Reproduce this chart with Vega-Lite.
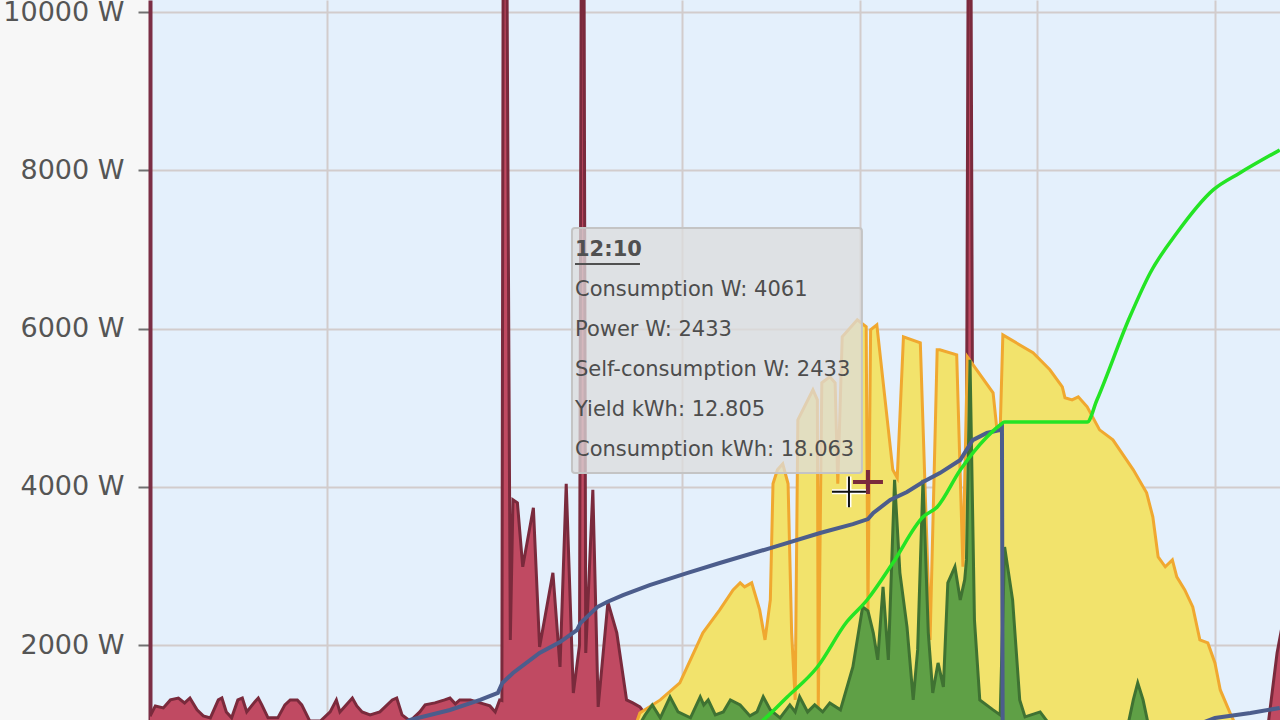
{
  "$schema": "https://vega.github.io/schema/vega-lite/v6.json",
  "width": 1130,
  "height": 720,
  "autosize": {"type": "none"},
  "padding": {"left": 150, "top": 0, "right": 0, "bottom": 0},
  "background": "#f7f7f7",
  "config": {
    "view": {"fill": "#e4f0fc", "stroke": null},
    "axisX": {"labels": false, "ticks": false, "domain": false, "title": null, "grid": true, "gridColor": "#d2cccc", "gridWidth": 2},
    "axisY": {"title": null, "grid": true, "gridColor": "#d2cccc", "gridWidth": 2, "tickSize": 12, "tickWidth": 2, "tickColor": "#707070", "labelPadding": 14, "labelFont": "DejaVu Sans", "labelFontSize": 27, "labelColor": "#555555", "domainColor": "#7b2e45", "domainWidth": 4}
  },
  "datasets": {
    "consumption": [
      {"t":4.00,"v":1100},{"t":4.06,"v":1231},{"t":4.15,"v":1206},{"t":4.23,"v":1307},{"t":4.32,"v":1331},{"t":4.39,"v":1269},{"t":4.45,"v":1331},{"t":4.53,"v":1181},{"t":4.60,"v":1105},{"t":4.68,"v":1080},{"t":4.77,"v":1307},{"t":4.81,"v":1331},{"t":4.86,"v":1155},{"t":4.92,"v":1080},{"t":4.99,"v":1307},{"t":5.04,"v":1331},{"t":5.09,"v":1155},{"t":5.18,"v":1282},{"t":5.22,"v":1331},{"t":5.26,"v":1244},{"t":5.33,"v":1080},{"t":5.44,"v":1080},{"t":5.52,"v":1244},{"t":5.58,"v":1307},{"t":5.66,"v":1307},{"t":5.71,"v":1244},{"t":5.80,"v":1040},{"t":5.92,"v":1040},{"t":6.03,"v":1155},{"t":6.10,"v":1307},{"t":6.14,"v":1155},{"t":6.28,"v":1331},{"t":6.33,"v":1231},{"t":6.39,"v":1155},{"t":6.48,"v":1117},{"t":6.59,"v":1155},{"t":6.73,"v":1307},{"t":6.78,"v":1331},{"t":6.84,"v":1117},{"t":6.93,"v":1040},{"t":7.04,"v":1155},{"t":7.10,"v":1244},{"t":7.21,"v":1269},{"t":7.32,"v":1307},{"t":7.38,"v":1331},{"t":7.44,"v":1257},{"t":7.49,"v":1307},{"t":7.61,"v":1307},{"t":7.72,"v":1269},{"t":7.83,"v":1231},{"t":7.89,"v":1155},{"t":7.94,"v":1307},{"t":7.965,"v":1300},{"t":7.98,"v":11000},{"t":8.02,"v":11000},{"t":8.06,"v":2066},{"t":8.09,"v":3836},{"t":8.14,"v":3798},{"t":8.20,"v":2990},{"t":8.32,"v":3735},{"t":8.39,"v":1976},{"t":8.54,"v":2913},{"t":8.62,"v":1724},{"t":8.69,"v":4039},{"t":8.77,"v":1395},{"t":8.84,"v":2000},{"t":8.86,"v":11000},{"t":8.89,"v":11000},{"t":8.91,"v":1900},{"t":8.99,"v":3963},{"t":9.05,"v":1219},{"t":9.16,"v":2544},{"t":9.26,"v":2155},{"t":9.37,"v":1307},{"t":9.44,"v":1269},{"t":9.52,"v":1219},{"t":9.60,"v":1100},{"t":10.0,"v":1050},{"t":11.0,"v":1050},{"t":12.0,"v":1050},{"t":13.19,"v":1050},{"t":13.22,"v":11000},{"t":13.25,"v":11000},{"t":13.28,"v":1050},{"t":14.0,"v":1000},{"t":15.0,"v":1000},{"t":16.0,"v":1000},{"t":16.60,"v":1000},{"t":16.70,"v":1900},{"t":16.75,"v":2200}
    ],
    "power": [
      {"t":9.46,"v":950},{"t":9.52,"v":1142},{"t":9.75,"v":1307},{"t":9.97,"v":1522},{"t":10.23,"v":2155},{"t":10.42,"v":2445},{"t":10.57,"v":2698},{"t":10.65,"v":2787},{"t":10.70,"v":2736},{"t":10.78,"v":2787},{"t":10.87,"v":2445},{"t":10.93,"v":2066},{"t":10.99,"v":2571},{"t":11.02,"v":4039},{"t":11.07,"v":4216},{"t":11.13,"v":4292},{"t":11.19,"v":4039},{"t":11.23,"v":2155},{"t":11.27,"v":1307},{"t":11.30,"v":4847},{"t":11.47,"v":5227},{"t":11.52,"v":5100},{"t":11.53,"v":1181},{"t":11.57,"v":5316},{"t":11.66,"v":5392},{"t":11.72,"v":5316},{"t":11.75,"v":4039},{"t":11.80,"v":5897},{"t":11.97,"v":6112},{"t":12.07,"v":6024},{"t":12.09,"v":2433},{"t":12.12,"v":5986},{"t":12.19,"v":6049},{"t":12.37,"v":4216},{"t":12.42,"v":4115},{"t":12.49,"v":5897},{"t":12.68,"v":5821},{"t":12.79,"v":2066},{"t":12.87,"v":5733},{"t":12.90,"v":5733},{"t":13.09,"v":5669},{"t":13.16,"v":2990},{"t":13.21,"v":5644},{"t":13.50,"v":5189},{"t":13.54,"v":4760},{"t":13.58,"v":4721},{"t":13.61,"v":5922},{"t":13.95,"v":5695},{"t":14.14,"v":5480},{"t":14.28,"v":5265},{"t":14.31,"v":5126},{"t":14.39,"v":5100},{"t":14.46,"v":5139},{"t":14.56,"v":5012},{"t":14.70,"v":4721},{"t":14.85,"v":4595},{"t":15.08,"v":4216},{"t":15.23,"v":3925},{"t":15.30,"v":3621},{"t":15.36,"v":3115},{"t":15.44,"v":2990},{"t":15.52,"v":3077},{"t":15.57,"v":2862},{"t":15.66,"v":2698},{"t":15.75,"v":2482},{"t":15.83,"v":2066},{"t":15.92,"v":2028},{"t":16.00,"v":1775},{"t":16.06,"v":1433},{"t":16.17,"v":1142},{"t":16.26,"v":927}
    ],
    "self": [
      {"t":9.48,"v":927},{"t":9.58,"v":1117},{"t":9.66,"v":1244},{"t":9.75,"v":1080},{"t":9.86,"v":1346},{"t":9.95,"v":1155},{"t":10.09,"v":1080},{"t":10.20,"v":1346},{"t":10.24,"v":1244},{"t":10.29,"v":1307},{"t":10.37,"v":1117},{"t":10.46,"v":1155},{"t":10.54,"v":1307},{"t":10.65,"v":1244},{"t":10.76,"v":1105},{"t":10.84,"v":1155},{"t":10.91,"v":1346},{"t":10.99,"v":1181},{"t":11.10,"v":1080},{"t":11.21,"v":1244},{"t":11.27,"v":1155},{"t":11.32,"v":1346},{"t":11.41,"v":1155},{"t":11.49,"v":1244},{"t":11.58,"v":1155},{"t":11.66,"v":1269},{"t":11.78,"v":1181},{"t":11.92,"v":1724},{"t":12.03,"v":2482},{"t":12.09,"v":2433},{"t":12.15,"v":2155},{"t":12.20,"v":1813},{"t":12.26,"v":2736},{"t":12.32,"v":1813},{"t":12.39,"v":4089},{"t":12.45,"v":2913},{"t":12.53,"v":2230},{"t":12.60,"v":1307},{"t":12.65,"v":1939},{"t":12.71,"v":4089},{"t":12.77,"v":2155},{"t":12.82,"v":1395},{"t":12.88,"v":1775},{"t":12.94,"v":1471},{"t":12.99,"v":2787},{"t":13.07,"v":2990},{"t":13.13,"v":2571},{"t":13.18,"v":2824},{"t":13.20,"v":3077},{"t":13.24,"v":5606},{"t":13.29,"v":2319},{"t":13.35,"v":1307},{"t":13.50,"v":1181},{"t":13.58,"v":1117},{"t":13.63,"v":3241},{"t":13.72,"v":2571},{"t":13.80,"v":1307},{"t":13.86,"v":1093},{"t":14.03,"v":1155},{"t":14.14,"v":990},{"t":15.02,"v":990},{"t":15.08,"v":1307},{"t":15.13,"v":1522},{"t":15.19,"v":1307},{"t":15.25,"v":990},{"t":16.28,"v":927}
    ],
    "yield": [
      {"t":10.84,"v":4.70},{"t":10.91,"v":5.02},{"t":11.18,"v":6.51},{"t":11.52,"v":8.46},{"t":11.85,"v":11.38},{"t":12.08,"v":12.81},{"t":12.37,"v":15.21},{"t":12.71,"v":18.20},{"t":12.87,"v":18.85},{"t":13.13,"v":21.25},{"t":13.43,"v":23.39},{"t":13.58,"v":24.17},{"t":13.63,"v":24.36},{"t":14.56,"v":24.36},{"t":14.67,"v":25.79},{"t":15.04,"v":31.18},{"t":15.27,"v":34.04},{"t":15.57,"v":36.63},{"t":15.98,"v":39.43},{"t":16.28,"v":40.53},{"t":16.73,"v":42.02}
    ],
    "ckwh": [
      {"t":6.59,"v":4.04},{"t":6.93,"v":5.02},{"t":7.38,"v":5.67},{"t":7.72,"v":6.32},{"t":7.92,"v":6.78},{"t":7.97,"v":7.42},{"t":8.09,"v":8.07},{"t":8.39,"v":9.37},{"t":8.62,"v":10.08},{"t":8.81,"v":10.86},{"t":8.85,"v":11.31},{"t":9.04,"v":12.35},{"t":9.15,"v":12.68},{"t":9.33,"v":13.13},{"t":9.63,"v":13.78},{"t":10.05,"v":14.56},{"t":10.42,"v":15.21},{"t":10.99,"v":16.18},{"t":11.55,"v":17.16},{"t":11.92,"v":17.74},{"t":12.09,"v":18.06},{"t":12.15,"v":18.46},{"t":12.34,"v":19.30},{"t":12.53,"v":19.82},{"t":12.71,"v":20.47},{"t":12.90,"v":21.05},{"t":13.13,"v":21.90},{"t":13.27,"v":23.19},{"t":13.43,"v":23.65},{"t":13.58,"v":23.85},{"t":13.60,"v":23.97},{"t":13.61,"v":0.0},{"t":14.70,"v":2.3},{"t":16.00,"v":5.15},{"t":16.40,"v":5.48},{"t":16.73,"v":5.80}
    ],
    "tipbox": [{"t1":8.755,"t2":12.022,"v1":7273,"v2":4176}],
    "tiptitle": [{"t":8.789,"v":6995,"label":"12:10","t2":9.521,"u":6818}],
    "tiplines": [
      {"t":8.789,"v":6491,"label":"Consumption W: 4061"},
      {"t":8.789,"v":5985,"label":"Power W: 2433"},
      {"t":8.789,"v":5479,"label":"Self-consumption W: 2433"},
      {"t":8.789,"v":4974,"label":"Yield kWh: 12.805"},
      {"t":8.789,"v":4468,"label":"Consumption kWh: 18.063"}
    ],
    "hover": [{"t":12.09,"v":4061}],
    "cursor": [{"t":11.876,"v":3937}]
  },
  "resolve": {"scale": {"y": "independent"}},
  "layer": [
    {
      "layer": [
        {
          "data": {"name": "consumption"},
          "mark": {"type": "area", "color": "#c04a62", "opacity": 1, "clip": true, "line": {"color": "#7a2a3c", "strokeWidth": 3}},
          "encoding": {
            "x": {"field": "t", "type": "quantitative", "scale": {"domain": [4, 16.733], "nice": false, "zero": false}, "axis": {"values": [6, 8, 10, 12, 14, 16]}},
            "y": {"field": "v", "type": "quantitative", "scale": {"domain": [1053, 10155], "nice": false, "zero": false}, "axis": {"values": [2000, 4000, 6000, 8000, 10000], "labelExpr": "datum.value + ' W'"}}
          }
        },
        {
          "data": {"name": "power"},
          "mark": {"type": "area", "color": "#f2e36c", "opacity": 1, "clip": true, "line": {"color": "#f0a830", "strokeWidth": 3}},
          "encoding": {
            "x": {"field": "t", "type": "quantitative"},
            "y": {"field": "v", "type": "quantitative"}
          }
        },
        {
          "data": {"name": "self"},
          "mark": {"type": "area", "color": "#5fa046", "opacity": 1, "clip": true, "line": {"color": "#3f7232", "strokeWidth": 3}},
          "encoding": {
            "x": {"field": "t", "type": "quantitative"},
            "y": {"field": "v", "type": "quantitative"}
          }
        }
      ]
    },
    {
      "layer": [
        {
          "data": {"name": "ckwh"},
          "mark": {"type": "line", "color": "#4c5d8c", "strokeWidth": 4, "clip": true},
          "encoding": {
            "x": {"field": "t", "type": "quantitative"},
            "y": {"field": "v", "type": "quantitative", "scale": {"domain": [5.02, 51.76], "nice": false, "zero": false}, "axis": null}
          }
        },
        {
          "data": {"name": "yield"},
          "mark": {"type": "line", "color": "#24e424", "strokeWidth": 3.5, "interpolate": "monotone", "clip": true},
          "encoding": {
            "x": {"field": "t", "type": "quantitative"},
            "y": {"field": "v", "type": "quantitative"}
          }
        }
      ]
    },
    {
      "layer": [
        {
          "data": {"name": "hover"},
          "mark": {"type": "point", "shape": "M-1,0L1,0M0,-0.8L0,0.8", "size": 900, "filled": false, "stroke": "#7a2a3c", "strokeWidth": 4, "opacity": 1},
          "encoding": {
            "x": {"field": "t", "type": "quantitative"},
            "y": {"field": "v", "type": "quantitative", "scale": {"domain": [1053, 10155], "nice": false, "zero": false}, "axis": null}
          }
        },
        {
          "data": {"name": "tipbox"},
          "mark": {"type": "rect", "fill": "#dcdcdc", "fillOpacity": 0.75, "stroke": "#c4c4c4", "strokeWidth": 2, "cornerRadius": 3},
          "encoding": {
            "x": {"field": "t1", "type": "quantitative"},
            "x2": {"field": "t2"},
            "y": {"field": "v1", "type": "quantitative"},
            "y2": {"field": "v2"}
          }
        },
        {
          "data": {"name": "tiptitle"},
          "mark": {"type": "text", "align": "left", "baseline": "middle", "font": "DejaVu Sans", "fontSize": 21, "fontWeight": "bold", "color": "#505050"},
          "encoding": {
            "x": {"field": "t", "type": "quantitative"},
            "y": {"field": "v", "type": "quantitative"},
            "text": {"field": "label"}
          }
        },
        {
          "data": {"name": "tiptitle"},
          "mark": {"type": "rule", "color": "#505050", "strokeWidth": 2},
          "encoding": {
            "x": {"field": "t", "type": "quantitative"},
            "x2": {"field": "t2"},
            "y": {"field": "u", "type": "quantitative"}
          }
        },
        {
          "data": {"name": "tiplines"},
          "mark": {"type": "text", "align": "left", "baseline": "middle", "font": "DejaVu Sans", "fontSize": 21, "color": "#4d4d4d"},
          "encoding": {
            "x": {"field": "t", "type": "quantitative"},
            "y": {"field": "v", "type": "quantitative"},
            "text": {"field": "label"}
          }
        },
        {
          "data": {"name": "cursor"},
          "mark": {"type": "point", "shape": "M-1,0L1,0M0,-0.9L0,0.9", "size": 1156, "filled": false, "stroke": "#ffffff", "strokeWidth": 5, "opacity": 1},
          "encoding": {
            "x": {"field": "t", "type": "quantitative"},
            "y": {"field": "v", "type": "quantitative"}
          }
        },
        {
          "data": {"name": "cursor"},
          "mark": {"type": "point", "shape": "M-1,0L1,0M0,-0.9L0,0.9", "size": 1156, "filled": false, "stroke": "#111111", "strokeWidth": 2, "opacity": 1},
          "encoding": {
            "x": {"field": "t", "type": "quantitative"},
            "y": {"field": "v", "type": "quantitative"}
          }
        }
      ]
    }
  ]
}
